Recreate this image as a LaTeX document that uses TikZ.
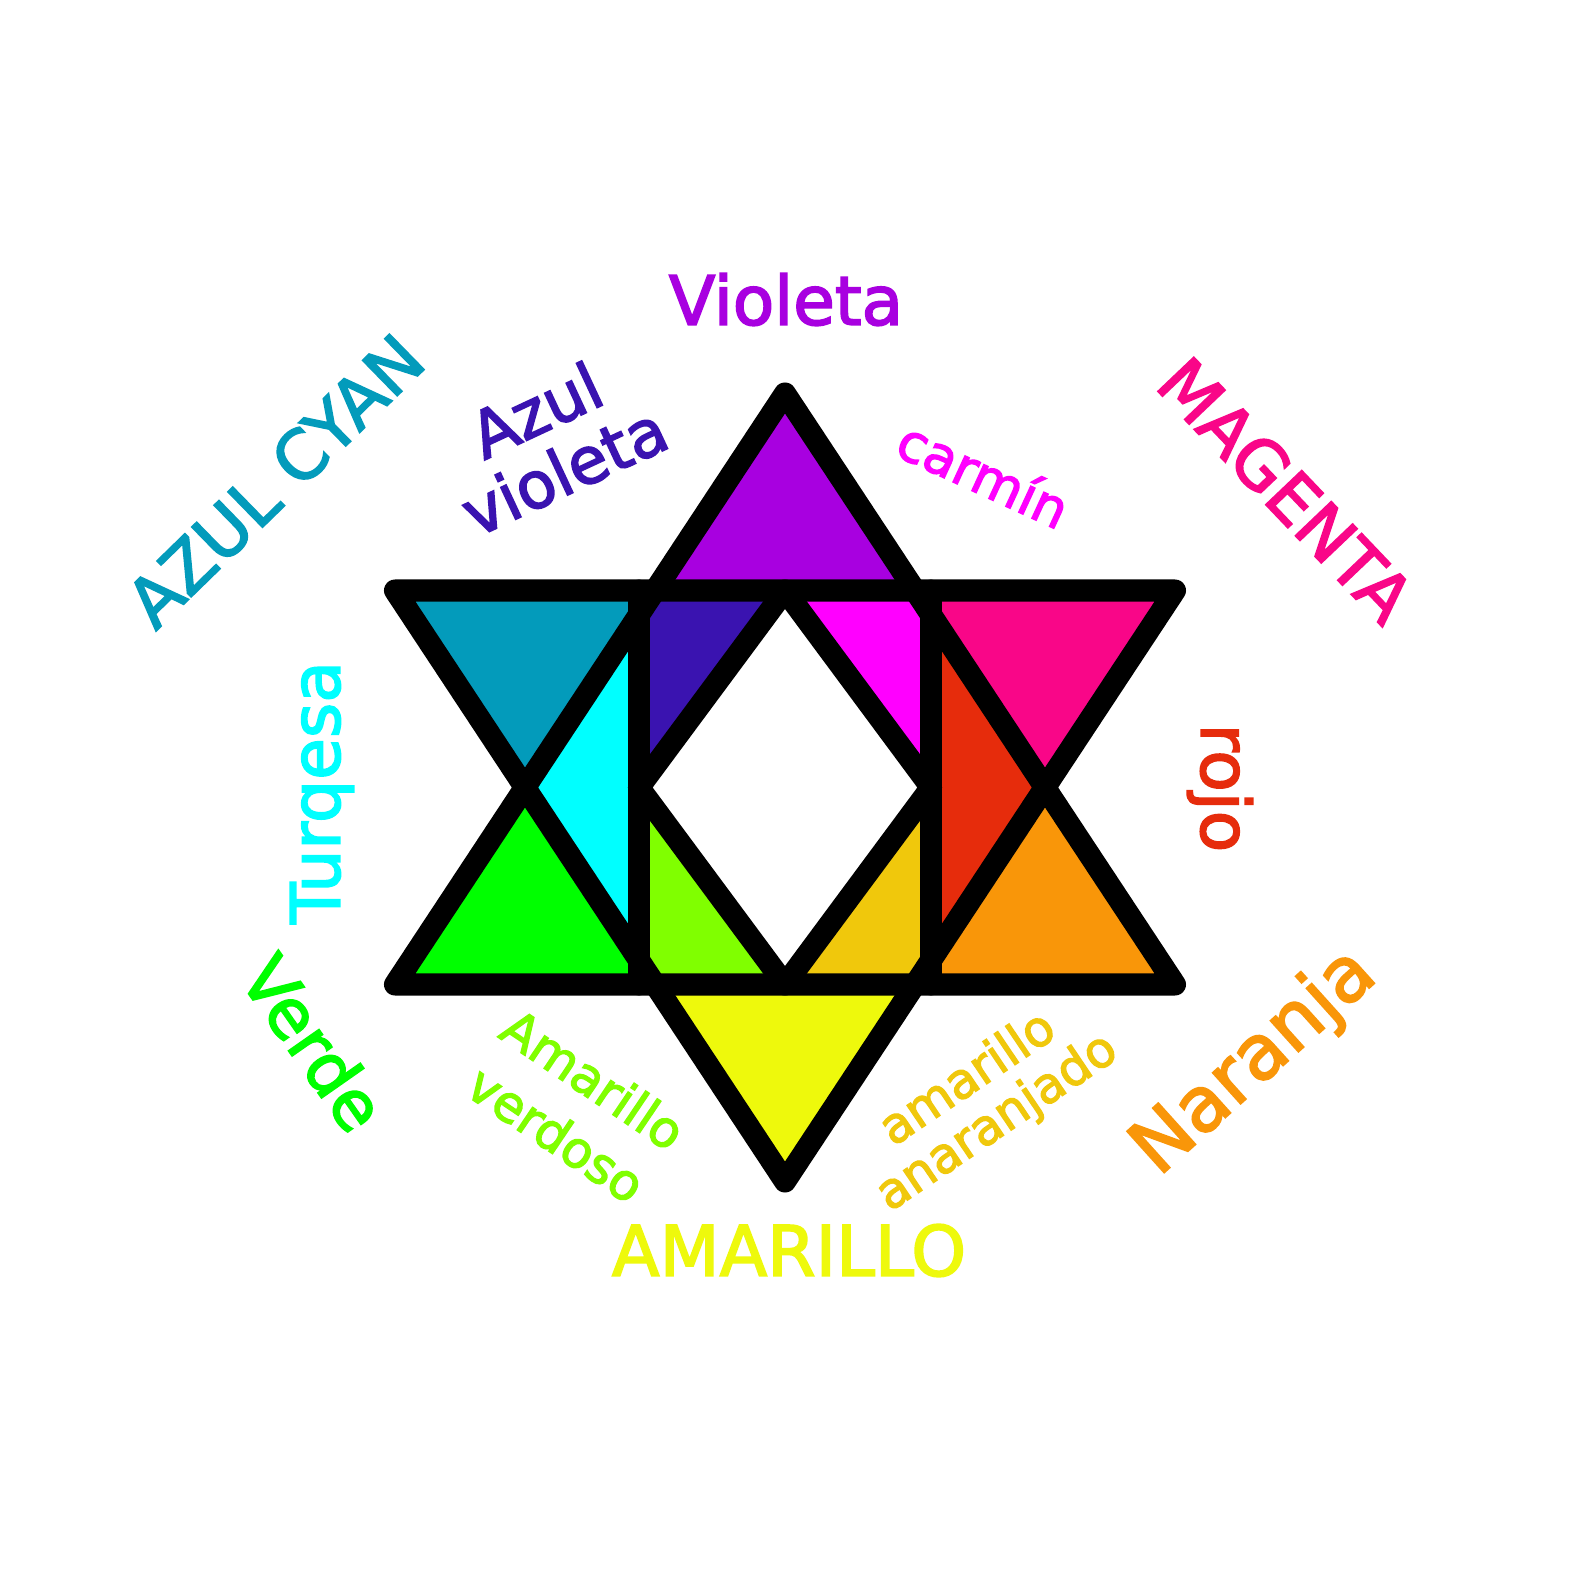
\documentclass[tikz,border=0pt]{standalone}
\usepackage{fontspec}
\setmainfont{DejaVu Sans}[FakeBold=2.5]
\definecolor{violetC}{HTML}{A800E0}
\definecolor{tealC}{HTML}{039BBB}
\definecolor{cyanC}{HTML}{00FFFF}
\definecolor{greenC}{HTML}{00FF00}
\definecolor{indigoC}{HTML}{3A13B0}
\definecolor{limeC}{HTML}{80FF00}
\definecolor{fuchsiaC}{HTML}{FF00FF}
\definecolor{goldC}{HTML}{F0C80C}
\definecolor{pinkC}{HTML}{F90688}
\definecolor{redC}{HTML}{E62C0C}
\definecolor{orangeC}{HTML}{F99609}
\definecolor{yellowC}{HTML}{EEF90C}
\begin{document}
\begin{tikzpicture}[x=0.01cm, y=0.01cm, lineStyle/.style={line width=0.22cm, line join=round, line cap=round}, bigLabel/.style={inner sep=0pt, font=\fontsize{19.3}{23}\selectfont}, smallLabel/.style={inner sep=0pt, align=center}]
                    \useasboundingbox[fill=white] (-785, -787.5) rectangle (790, 787.5);

                    \coordinate (apex_T) at (   0,  394);
                    \coordinate (apex_B) at (   0, -394);
                    \coordinate (cnr_TL) at (-390,  197);
                    \coordinate (cnr_TR) at ( 390,  197);
                    \coordinate (cnr_BL) at (-390, -197);
                    \coordinate (cnr_BR) at ( 390, -197);
                    \coordinate (mid_T)  at (   0,  197);
                    \coordinate (mid_B)  at (   0, -197);
                    \coordinate (mid_L)  at (-146,    0);
                    \coordinate (mid_R)  at ( 146,    0);
                    \coordinate (bar_LT) at (-146,  197);
                    \coordinate (bar_LB) at (-146, -197);
                    \coordinate (bar_RT) at ( 146,  197);
                    \coordinate (bar_RB) at ( 146, -197);

                    % colour cells
                    \fill[violetC]  (apex_T) -- (-130, 197) -- (130, 197) -- cycle;
                    \fill[yellowC]  (apex_B) -- (-130,-197) -- (130,-197) -- cycle;
                    \fill[tealC]    (cnr_TL) -- (bar_LT) -- (-146, 172.8) -- (-260, 0) -- cycle;
                    \fill[cyanC]    (-260, 0) -- (-146, 172.8) -- (-146,-172.8) -- cycle;
                    \fill[greenC]   (cnr_BL) -- (bar_LB) -- (-146,-172.8) -- (-260, 0) -- cycle;
                    \fill[indigoC]  (-146, 172.8) -- (-130, 197) -- (mid_T) -- (mid_L) -- cycle;
                    \fill[limeC]    (-146,-172.8) -- (-130,-197) -- (mid_B) -- (mid_L) -- cycle;
                    \fill[fuchsiaC] ( 146, 172.8) -- ( 130, 197) -- (mid_T) -- (mid_R) -- cycle;
                    \fill[goldC]    ( 146,-172.8) -- ( 130,-197) -- (mid_B) -- (mid_R) -- cycle;
                    \fill[pinkC]    (cnr_TR) -- (bar_RT) -- ( 146, 172.8) -- ( 260, 0) -- cycle;
                    \fill[redC]     ( 260, 0) -- ( 146, 172.8) -- ( 146,-172.8) -- cycle;
                    \fill[orangeC]  (cnr_BR) -- (bar_RB) -- ( 146,-172.8) -- ( 260, 0) -- cycle;

                    % black frame
                    \draw[lineStyle] (apex_T) -- (cnr_BL) -- (cnr_BR) -- cycle;
                    \draw[lineStyle] (apex_B) -- (cnr_TL) -- (cnr_TR) -- cycle;
                    \draw[lineStyle] (bar_LT) -- (bar_LB);
                    \draw[lineStyle] (bar_RT) -- (bar_RB);
                    \draw[lineStyle] (mid_T) -- (mid_L) -- (mid_B) -- (mid_R) -- cycle;

                    \node[bigLabel, text=violetC] (lbl_violeta) at (1, 488) {Violeta};
                    \node[bigLabel, text=pinkC, rotate=-46.4] (lbl_magenta) at (501, 297.5) {MAGENTA};
                    \node[bigLabel, text=tealC, rotate=44.3] (lbl_cyan) at (-510, 307) {AZUL CYAN};
                    \node[bigLabel, text=redC, rotate=-90] (lbl_rojo) at (435, -0.5) {rojo};
                    \node[bigLabel, text=cyanC, rotate=90] (lbl_turqesa) at (-463, -5) {Turqesa};
                    \node[bigLabel, text=greenC, rotate=-55] (lbl_verde) at (-471, -255.5) {Verde};
                    \node[bigLabel, text=yellowC, font=\fontsize{19.8}{24}\selectfont] (lbl_amarillo) at (4, -463) {AMARILLO};
                    \node[bigLabel, text=orangeC, rotate=42, font=\fontsize{21.6}{26}\selectfont] (lbl_naranja) at (470, -275) {Naranja};
                    \node[smallLabel, text=fuchsiaC, rotate=-24.7, font=\fontsize{15}{18}\selectfont] (lbl_carmin) at (199, 314) {carmín};
                    \node[smallLabel, text=indigoC, rotate=25, font=\fontsize{18.3}{19}\selectfont] (lbl_azulvio) at (-235, 347.5) {Azul\\violeta};
                    \node[smallLabel, text=limeC, rotate=-34, font=\fontsize{14.3}{18.8}\selectfont] (lbl_verdoso) at (-210, -319) {Amarillo\\verdoso};
                    \node[smallLabel, text=goldC, rotate=34, font=\fontsize{14}{14.8}\selectfont] (lbl_anaranj) at (198, -314) {amarillo\\anaranjado};
                \end{tikzpicture}
\end{document}
